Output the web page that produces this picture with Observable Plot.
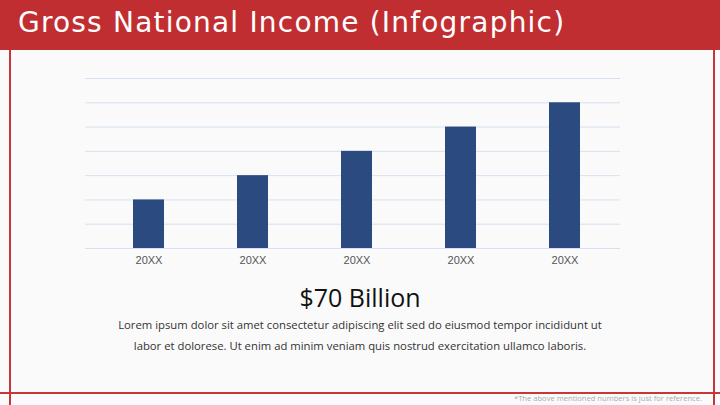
<!DOCTYPE html>
<html>
<head>
<meta charset="utf-8">
<script src="https://cdn.jsdelivr.net/npm/d3@7"></script>
<script src="https://cdn.jsdelivr.net/npm/@observablehq/plot@0.6"></script>
<style>
  html, body { margin: 0; padding: 0; }
  body { width: 720px; height: 405px; position: relative; overflow: hidden; background: #fafafa; font-family: "Open Sans", sans-serif; }
  .header { position: absolute; left: 0; top: 0; width: 720px; height: 50px; background: #c12e31; }
  .title { position: absolute; left: 18px; top: 6px; color: #fff; font-size: 28px; font-family: "DejaVu Sans", sans-serif; letter-spacing: 1.2px; white-space: nowrap; }
  .vline { position: absolute; top: 50px; width: 2px; height: 355px; background: #c8363a; }
  .hline { position: absolute; left: 0; top: 392px; width: 720px; height: 2px; background: #c8363a; }
  #chart { position: absolute; left: 0; top: 50px; }
  .big { position: absolute; left: 0; width: 720px; top: 280px; text-align: center; font-size: 25px; color: #111; }
  .body { position: absolute; left: 0; width: 720px; top: 314px; text-align: center; font-size: 11.3px; line-height: 21px; color: #333; }
  .note { position: absolute; right: 18px; top: 393px; font-size: 7.6px; color: #aaa; white-space: nowrap; }
</style>
</head>
<body>
<div class="header"><div class="title">Gross National Income (Infographic)</div></div>
<div class="vline" style="left:9px"></div>
<div class="vline" style="left:713px"></div>
<div class="hline"></div>
<div id="chart"></div>
<div class="big">$70 Billion</div>
<div class="body">Lorem ipsum dolor sit amet consectetur adipiscing elit sed do eiusmod tempor incididunt ut<br>labor et dolorese. Ut enim ad minim veniam quis nostrud exercitation ullamco laboris.</div>
<div class="note">*The above mentioned numbers is just for reference.</div>
<script>
// Income per period (billions)
const periods = [0, 1, 2, 3, 4];
const periodLabels = ["20XX", "20XX", "20XX", "20XX", "20XX"];
const income = [20, 30, 40, 50, 60];
const gridTicks = [0, 10, 20, 30, 40, 50, 60, 70];

const rows = periods.map((p, i) => ({period: p, value: income[i]}));

const chart = Plot.plot({
  width: 720,
  height: 220,
  marginTop: 28,
  marginBottom: 22,
  marginLeft: 85,
  marginRight: 100,
  style: {background: "transparent", fontFamily: "Liberation Sans, Arial, sans-serif", fontSize: "11px", color: "#555"},
  x: {domain: periods, range: [96.5, 616.5], paddingInner: 0.7, paddingOuter: 0.35, label: null, tickSize: 0, tickPadding: 8, tickFormat: i => periodLabels[i]},
  y: {domain: [0, 70], axis: null},
  marks: [
    Plot.ruleY(gridTicks, {stroke: "#d5e1f0", strokeWidth: 1}),
    Plot.barY(rows, {x: "period", y: "value", fill: "#2a4a80"})
  ]
});
document.getElementById("chart").appendChild(chart);
</script>
</body>
</html>
